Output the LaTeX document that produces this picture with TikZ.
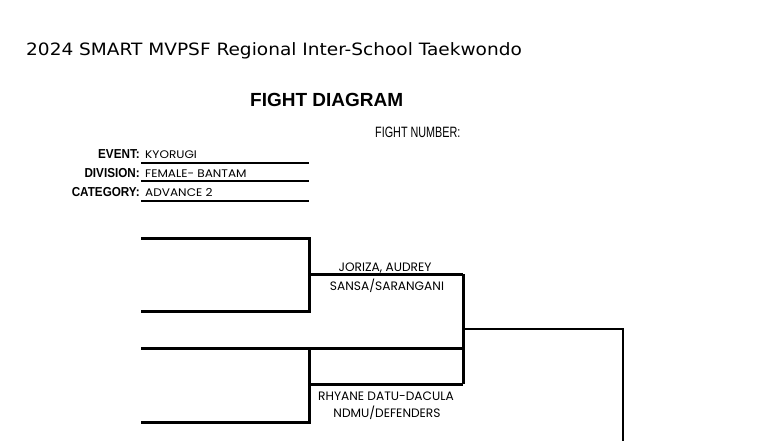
\documentclass[tikz,border=0pt]{standalone}
\usepackage{fontspec}
\setmainfont{Liberation Sans}
\newfontfamily\titlefont[FakeStretch=1.09]{DejaVu Sans}
\newfontfamily\narrowfont[FakeStretch=0.72]{Liberation Sans}
\newfontfamily\labelfont[FakeStretch=0.9]{Liberation Sans}
\newfontfamily\namefont{Poppins}
\newfontfamily\valuefont[FakeStretch=1.1]{Poppins}
\usetikzlibrary{positioning}
\tikzset{
  bracket/.style={line width=3pt, black},
  thinbracket/.style={line width=2pt, black},
  ruleline/.style={line width=1.8pt, black},
  fieldlabel/.style={font=\labelfont\fontsize{13}{14}\selectfont\bfseries, anchor=base east, inner sep=0pt},
  fieldvalue/.style={font=\valuefont\fontsize{11}{12}\selectfont, anchor=base west, inner sep=0pt},
  player/.style={font=\namefont\fontsize{12.2}{13}\selectfont, anchor=base, inner sep=0pt},
}
\begin{document}
\begin{tikzpicture}[x=1pt, y=-1pt]
  \useasboundingbox (0,0) rectangle (784,441);

  % Headings
  \node[font=\titlefont\fontsize{17}{19}\selectfont, anchor=base west, inner sep=0pt] (title) at (26,56) {2024 SMART MVPSF Regional Inter-School Taekwondo};
  \node[font=\fontsize{19}{21}\selectfont\bfseries, anchor=base west, inner sep=0pt] (diagram) at (250,107) {FIGHT DIAGRAM};
  \node[font=\narrowfont\fontsize{15}{16}\selectfont, anchor=base west, inner sep=0pt] (fightno) at (375,138) {FIGHT NUMBER:};

  % Event fields
  \node[fieldlabel] (evlbl) at (140,158) {EVENT:};
  \node[fieldlabel] (divlbl) at (140,177) {DIVISION:};
  \node[fieldlabel] (catlbl) at (140,196) {CATEGORY:};
  \node[fieldvalue] (evval) at (145,158) {KYORUGI};
  \node[fieldvalue] (divval) at (145,177) {FEMALE- BANTAM};
  \node[fieldvalue] (catval) at (145,196) {ADVANCE 2};
  \coordinate (ev1) at (141,163);  \coordinate (ev2) at (309,163);
  \coordinate (div1) at (141,181); \coordinate (div2) at (309,181);
  \coordinate (cat1) at (141,201); \coordinate (cat2) at (309,201);
  \draw[ruleline] (ev1) -- (ev2);
  \draw[ruleline] (div1) -- (div2);
  \draw[ruleline] (cat1) -- (cat2);

  % Bracket corners
  \coordinate (s1) at (141,238); \coordinate (s1r) at (309,238);
  \coordinate (s2) at (141,311); \coordinate (s2r) at (309,311);
  \coordinate (s3) at (141,348); \coordinate (s3r) at (309,348);
  \coordinate (s4) at (141,422); \coordinate (s4r) at (309,422);
  \coordinate (w1) at (309,274); \coordinate (w1r) at (463,274);
  \coordinate (w2) at (309,384); \coordinate (w2r) at (463,384);
  \coordinate (s3e) at (463,348);
  \coordinate (f1) at (463,329); \coordinate (f1r) at (623,329);
  \coordinate (f2) at (623,443);

  % Round 1
  \draw[bracket] (s1) -- (s1r) -- (s2r) -- (s2);
  \draw[bracket] (w1) -- (w1r);
  \draw[bracket] (s3) -- (s3e);
  \draw[bracket] (s3r) -- (s4r) -- (s4);
  \draw[bracket] (w2) -- (w2r);
  \draw[bracket] (w1r) -- (w2r);

  % Final
  \draw[thinbracket] (f1) -- (f1r) -- (f2);

  % Players
  \node[player] (p1) at (385,271) {JORIZA, AUDREY};
  \node[player] (p1club) at (387,290) {SANSA/SARANGANI};
  \node[player] (p2) at (386,400) {RHYANE DATU-DACULA};
  \node[player] (p2club) at (387,417) {NDMU/DEFENDERS};

\end{tikzpicture}
\end{document}
